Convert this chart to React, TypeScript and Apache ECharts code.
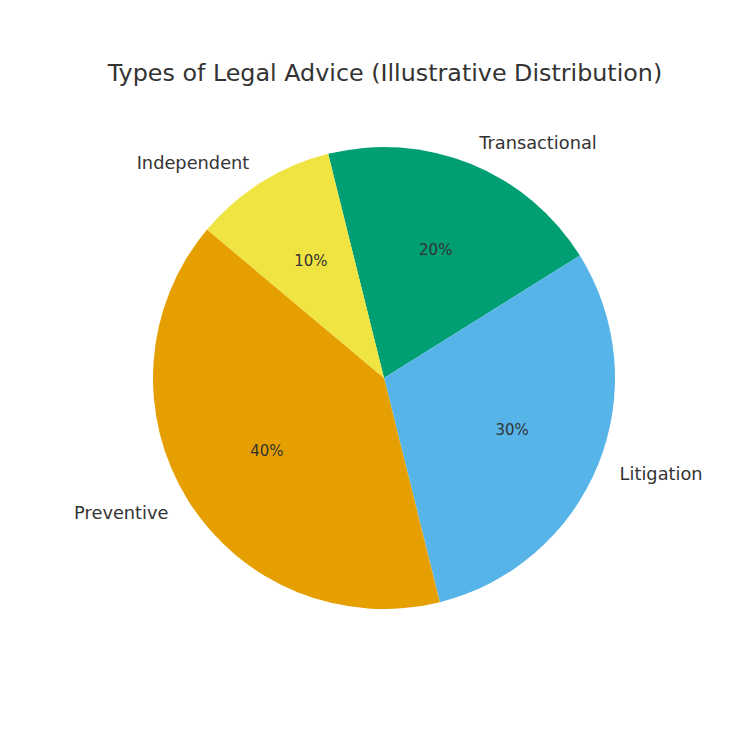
import { useEffect, useRef } from "react";
import * as echarts from "echarts";

const categories = ["Transactional", "Litigation", "Preventive", "Independent"];
const shares = [20, 30, 40, 10];
const sliceColors = ["#009E73", "#56B4E9", "#E69F00", "#F0E442"];

const CX = 384;
const CY = 378;
const R = 231;

export default function App() {
  const chartRef = useRef<HTMLDivElement>(null);

  useEffect(() => {
    document.body.style.margin = "0";
    if (!chartRef.current) return;
    const chart = echarts.init(chartRef.current, null, { renderer: "svg" });

    const data = categories.map((name, i) => ({
      name,
      value: shares[i],
      itemStyle: { color: sliceColors[i] },
    }));

    chart.setOption({
      animation: false,
      backgroundColor: "#ffffff",
      title: {
        text: "Types of Legal Advice (Illustrative Distribution)",
        left: CX - 4,
        top: 56,
        textAlign: "center",
        textStyle: {
          fontFamily: "DejaVu Sans",
          fontSize: 23.8,
          fontWeight: "normal",
          color: "#333333",
        },
      },
      series: [
        {
          type: "pie",
          center: [CX, CY],
          radius: [0, R],
          startAngle: 104,
          clockwise: true,
          avoidLabelOverlap: false,
          silent: true,
          itemStyle: { borderWidth: 0 },
          label: {
            show: true,
            position: "outside",
            formatter: "{b}",
            fontFamily: "DejaVu Sans",
            fontSize: 17.8,
            color: "#333333",
            distanceToLabelLine: 0,
          },
          labelLine: { show: false, length: R * 0.1, length2: 0 },
          data,
        },
        {
          // transparent ring just to place the percentage labels
          type: "pie",
          center: [CX, CY],
          radius: [R * 0.17, R],
          startAngle: 104,
          clockwise: true,
          avoidLabelOverlap: false,
          silent: true,
          itemStyle: { color: "transparent", borderWidth: 0 },
          label: {
            show: true,
            position: "inside",
            formatter: "{c}%",
            fontFamily: "DejaVu Sans",
            fontSize: 15,
            color: "#333333",
          },
          labelLine: { show: false },
          data: categories.map((name, i) => ({ name, value: shares[i] })),
        },
      ],
    });

    return () => {
      chart.dispose();
    };
  }, []);

  return <div ref={chartRef} style={{ width: 750, height: 750 }} />;
}
